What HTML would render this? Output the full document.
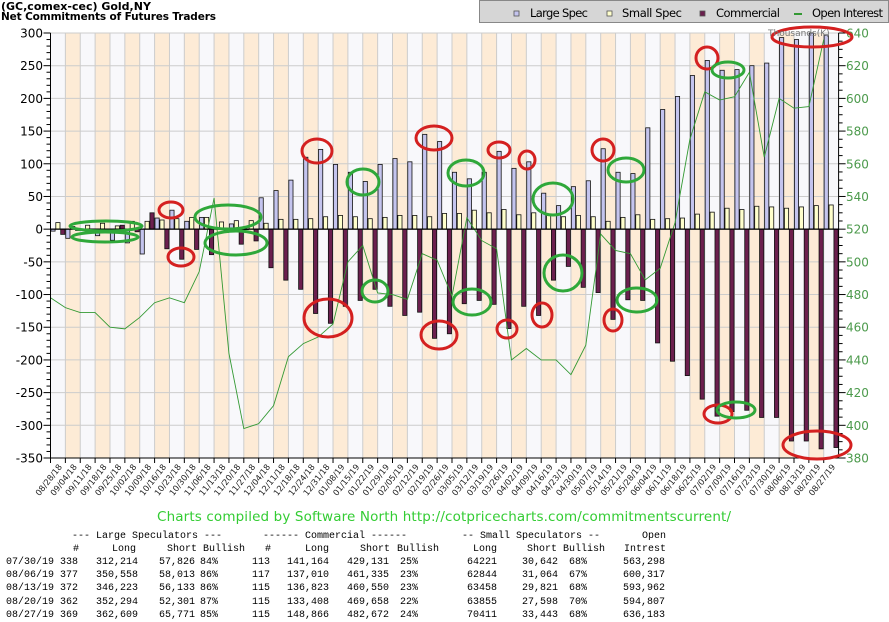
<!DOCTYPE html>
<html><head><meta charset="utf-8"><style>
body{margin:0;background:#fff;width:889px;height:620px;overflow:hidden;position:relative;font-family:"DejaVu Sans","Liberation Sans",sans-serif}
svg{position:absolute;left:0;top:0}
.t{position:absolute;font-family:"Liberation Mono","DejaVu Sans Mono",monospace;font-size:10px;line-height:13px;white-space:pre;color:#000}
</style></head><body>
<svg id="chart" width="889" height="620" viewBox="0 0 889 620">
<text x="1" y="10" font-size="11" font-weight="bold" font-family="DejaVu Sans,sans-serif">(GC,comex-cec) Gold,NY</text>
<text x="1" y="20" font-size="10.5" font-weight="bold" font-family="DejaVu Sans,sans-serif" textLength="215">Net Commitments of Futures Traders</text>
<g id="bands"></g><g id="grid"></g><g id="bars"></g><g id="line"></g><g id="axes"></g><g id="marks"></g>
<g>
<rect x="479.5" y="0.5" width="409" height="22" fill="#d6d6d6" stroke="#888"/>
<rect x="514" y="11" width="5" height="5" fill="#c4c4ee" stroke="#555" stroke-width="0.8"/>
<text x="530" y="17" font-size="11.5" textLength="58">Large Spec</text>
<rect x="607" y="11" width="5" height="5" fill="#ffffcc" stroke="#555" stroke-width="0.8"/>
<text x="622" y="17" font-size="11.5" textLength="60">Small Spec</text>
<rect x="700" y="11" width="5" height="5" fill="#6b1f4e" stroke="#555" stroke-width="0.8"/>
<text x="716" y="17" font-size="11.5" textLength="64">Commercial</text>
<rect x="794" y="13" width="8" height="2" fill="#339933"/>
<text x="812" y="17" font-size="11.5" textLength="71">Open Interest</text>
</g>
<text x="768" y="36" font-size="9" fill="#777">Thousands(K)</text>
<text x="157" y="521" font-size="13.5" fill="#33cc33" textLength="574">Charts compiled by Software North  http://cotpricecharts.com/commitmentscurrent/</text>
</svg>
<div id="table"></div>
<script>
const dates=["08/28/18","09/04/18","09/11/18","09/18/18","09/25/18","10/02/18","10/09/18","10/16/18","10/23/18","10/30/18","11/06/18","11/13/18","11/20/18","11/27/18","12/04/18","12/11/18","12/18/18","12/24/18","12/31/18","01/08/19","01/15/19","01/22/19","01/29/19","02/05/19","02/12/19","02/19/19","02/26/19","03/05/19","03/12/19","03/19/19","03/26/19","04/02/19","04/09/19","04/16/19","04/23/19","04/30/19","05/07/19","05/14/19","05/21/19","05/28/19","06/04/19","06/11/19","06/18/19","06/25/19","07/02/19","07/09/19","07/16/19","07/23/19","07/30/19","08/06/19","08/13/19","08/20/19","08/27/19"];
const largeSpec=[-3,-14,-2,-10,-17,-21,-38,17,29,12,18,2,8,0,48,59,75,110,122,99,87,73,99,108,103,145,134,87,77,87,119,93,103,55,36,65,74,123,87,85,155,183,203,235,258,243,244,250,254,293,290,300,297];
const smallSpec=[10,4,6,9,5,12,12,14,16,18,18,11,13,13,9,15,15,16,19,21,19,16,18,21,21,19,24,24,29,25,30,22,25,21,19,21,19,12,18,22,15,16,17,23,26,32,30,35,34,32,34,36,37];
const commercial=[-8,-2,-2,-3,6,-4,25,-30,-46,-31,-39,-5,-23,-18,-59,-78,-92,-129,-144,-118,-109,-92,-118,-132,-127,-167,-160,-114,-109,-115,-152,-118,-132,-78,-57,-89,-97,-138,-108,-109,-174,-202,-224,-260,-286,-279,-277,-288,-288,-324,-324,-336,-334];
const openInterest=[478,472,469,469,460,459,466,475,478,475,494,539,444,398,401,412,442,450,454,462,500,510,481,480,477,505,501,479,527,513,508,440,447,440,440,431,449,517,507,505,489,496,524,575,604,599,601,616,564,600,594,595,636];
const leftTicks=[300,250,200,150,100,50,0,-50,-100,-150,-200,-250,-300,-350];
const rightTicks=[640,620,600,580,560,540,520,500,480,460,440,420,400,380];
const NS="http://www.w3.org/2000/svg";
const X0=50.5,X1=838.6,Y0=33,Y1=458;
const colW=(X1-X0)/dates.length;
function xCol(i){return X0+i*colW;}
function yL(v){return Y0+(300-v)*(Y1-Y0)/650;}
function yR(v){return Y0+(640-v)*(Y1-Y0)/260;}
function mk(tag,attrs,parent){const e=document.createElementNS(NS,tag);for(const k in attrs)e.setAttribute(k,attrs[k]);parent.appendChild(e);return e;}
const bands=document.getElementById('bands'),grid=document.getElementById('grid'),bars=document.getElementById('bars'),lineG=document.getElementById('line'),axes=document.getElementById('axes'),marks=document.getElementById('marks');
dates.forEach((d,i)=>{
  const b=mk('rect',{x:xCol(i),y:Y0,width:colW,height:Y1-Y0,fill:i%2?'#fdebd6':'#f8f8fb'},bands);
  
  
  mk('line',{x1:xCol(i),x2:xCol(i),y1:Y0,y2:Y1,stroke:'#ccc','stroke-width':1},grid);
  mk('line',{x1:xCol(i),x2:xCol(i),y1:Y1,y2:Y1+5,stroke:'#000','stroke-width':1},axes);
  const t=mk('text',{x:xCol(i)+12,y:Y1+9,'font-size':8.3,'text-anchor':'end',fill:'#222',transform:`rotate(-52 ${xCol(i)+12} ${Y1+9})`},axes);
  t.textContent=d;
  
  
});
leftTicks.forEach(v=>{
  mk('line',{x1:X0,x2:X1,y1:yL(v),y2:yL(v),stroke:'#ccc','stroke-width':1},grid);
  mk('line',{x1:X0-7,x2:X0,y1:yL(v),y2:yL(v),stroke:'#000'},axes);
  for(let k=1;k<5&&v>-350;k++)mk('line',{x1:X0-4,x2:X0,y1:yL(v-k*10),y2:yL(v-k*10),stroke:'#000'},axes);
  const t=mk('text',{x:43,y:yL(v)+4.5,'font-size':12,'text-anchor':'end'},axes);
  t.textContent=v;
  
  
});
rightTicks.forEach(v=>{
  mk('line',{x1:X1,x2:X1+7,y1:yR(v),y2:yR(v),stroke:'#000'},axes);
  for(let k=1;k<4&&v>380;k++)mk('line',{x1:X1,x2:X1+4,y1:yR(v-k*5),y2:yR(v-k*5),stroke:'#000'},axes);
  const t=mk('text',{x:846,y:yR(v)+4.5,'font-size':12,fill:'#4c9a4c'},axes);
  t.textContent=v;
  
  
});
function bar(v,x,fill,name){
  const y=Math.min(yL(v),yL(0)),h=Math.max(Math.abs(yL(v)-yL(0)),0.5);
  const r=mk('rect',{x:x,y:y,width:4.2,height:h,fill:fill,stroke:'#111','stroke-width':0.8},bars);
  
  
}
dates.forEach((d,i)=>{
  bar(largeSpec[i],xCol(i)+0.4,'#c4c4ee','bar-large-spec-'+d);
  bar(smallSpec[i],xCol(i)+5.3,'#ffffcc','bar-small-spec-'+d);
  bar(commercial[i],xCol(i)+10.2,'#6b1f4e','bar-commercial-'+d);
});
const pl=mk('polyline',{points:openInterest.map((v,i)=>xCol(i)+','+yR(v)).join(' '),fill:'none',stroke:'#339933','stroke-width':0.9},lineG);


mk('line',{x1:X0,x2:X0,y1:Y0,y2:Y1,stroke:'#000'},axes);
mk('line',{x1:X1,x2:X1,y1:Y0,y2:Y1,stroke:'#000'},axes);
mk('line',{x1:X0,x2:X1,y1:Y1,y2:Y1,stroke:'#000'},axes);
mk('line',{x1:X0,x2:X1,y1:yL(0),y2:yL(0),stroke:'#000','stroke-width':1.2},axes);
const reds=[[171,210,12,8],[181,257,13,9],[317,151,15,12],[328,318,24,19],[434,138,18,12],[439,335,18,14],[499,150,11,8],[527,160,8,9],[603,150,11,11],[507,329,10,9],[542,315,10,12],[613,320,9,11],[707,58,11,11],[718,414,14,9],[812,37,40,10],[817,445,34,14]];
const greens=[[106,226,36,5],[105,237,33,5],[228,217,33,12],[236,243,31,12],[363,182,16,13],[375,291,13,11],[466,173,18,13],[472,302,19,13],[553,199,20,16],[563,273,19,18],[626,170,18,12],[637,300,20,12],[728,70,16,8],[736,410,19,8]];
reds.forEach(c=>{const e=mk('ellipse',{cx:c[0],cy:c[1],rx:c[2],ry:c[3],fill:'none',stroke:'#d42020','stroke-width':3},marks);
  
  });
greens.forEach(c=>{const e=mk('ellipse',{cx:c[0],cy:c[1],rx:c[2],ry:c[3],fill:'none',stroke:'#2fa83a','stroke-width':3},marks);
  
  });
const tbl=document.getElementById('table');
function txt(s,x,y,name){const d=document.createElement('div');d.className='t';d.style.left=x+'px';d.style.top=(y-7)+'px';d.textContent=s;
  
  
  tbl.appendChild(d);}
txt('--- Large Speculators ---',72,537,'header-large-spec');
txt('------ Commercial ------',263,537,'header-commercial');
txt('-- Small Speculators --',462,537,'header-small-spec');
txt('Open',642,537,'header-open');
[['#',73],['Long',112],['Short',167],['Bullish',203],['#',265],['Long',305],['Short',360],['Bullish',397],['Long',473],['Short',527],['Bullish',563],['Intrest',624]].forEach(h=>txt(h[0],h[1],550,'column-header'));
const rows=[["07/30/19","338","312,214","57,826","84%","113","141,164","429,131","25%","64221","30,642","68%","563,298"],
["08/06/19","377","350,558","58,013","86%","117","137,010","461,335","23%","62844","31,064","67%","600,317"],
["08/13/19","372","346,223","56,133","86%","115","136,823","460,550","23%","63458","29,821","68%","593,962"],
["08/20/19","362","352,294","52,301","87%","115","133,408","469,658","22%","63855","27,598","70%","594,807"],
["08/27/19","369","362,609","65,771","85%","115","148,866","482,672","24%","70411","33,443","68%","636,183"]];
const colX=[6,60,96,159,200,252,287,347,400,467,522,569,623];
rows.forEach((r,ri)=>r.forEach((c,ci)=>txt(c,colX[ci],563+ri*13.2,'table-cell')));
</script>
</body></html>
